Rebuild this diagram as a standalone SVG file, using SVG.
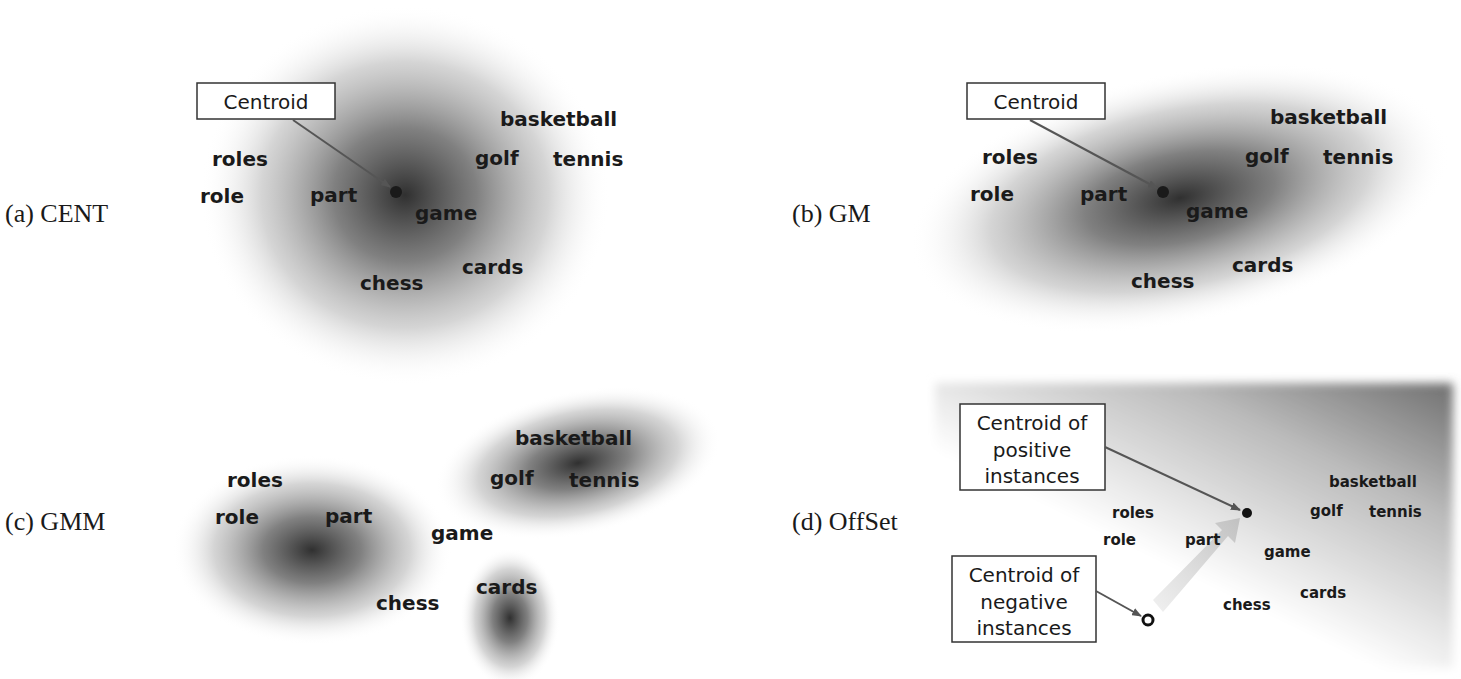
<svg xmlns="http://www.w3.org/2000/svg" width="1461" height="679" viewBox="0 0 1461 679">
<defs>
<radialGradient id="blob"><stop offset="0" stop-color="#303030"/><stop offset="0.35" stop-color="#6a6a6a" stop-opacity="0.85"/><stop offset="0.7" stop-color="#aaa" stop-opacity="0.5"/><stop offset="1" stop-color="#fff" stop-opacity="0"/></radialGradient>
<linearGradient id="bg" x1="0.2" y1="0.9" x2="1" y2="0"><stop offset="0.3" stop-color="#fff"/><stop offset="0.7" stop-color="#bbb"/><stop offset="1" stop-color="#707070"/></linearGradient>
<linearGradient id="big" x1="0" y1="1" x2="1" y2="0"><stop offset="0" stop-color="#eee"/><stop offset="1" stop-color="#bbb"/></linearGradient>
<marker id="ah" markerWidth="10" markerHeight="8" refX="9" refY="4" orient="auto" markerUnits="userSpaceOnUse"><path d="M0,0 L10,4 L0,8 Z" fill="#555"/></marker>
<filter id="soft"><feGaussianBlur stdDeviation="5"/></filter>
</defs>
<style>
.w{font-family:"DejaVu Sans",Verdana,sans-serif;font-weight:bold;font-size:20px;fill:#1a1a1a}
.ws{font-family:"DejaVu Sans",Verdana,sans-serif;font-weight:bold;font-size:15px;fill:#1a1a1a}
.lab{font-family:"Liberation Serif",serif;font-size:26px;fill:#1a1a1a}
.box{fill:#fff;stroke:#333;stroke-width:1.5}
.bt{font-family:"DejaVu Sans",Verdana,sans-serif;font-size:20px;fill:#1a1a1a;text-anchor:middle}
.ar{stroke:#555;stroke-width:2;fill:none;marker-end:url(#ah)}
</style>
<rect width="1461" height="679" fill="#fff"/>
<g id="panel-a">
<ellipse cx="405" cy="195" rx="205" ry="190" fill="url(#blob)"/>
<text class="lab" x="5" y="222">(a) CENT</text>
<text class="w" x="500" y="126">basketball</text><text class="w" x="475" y="165">golf</text><text class="w" x="553" y="166">tennis</text>
<text class="w" x="212" y="166">roles</text><text class="w" x="200" y="203">role</text><text class="w" x="310" y="202">part</text>
<text class="w" x="415" y="220">game</text><text class="w" x="360" y="290">chess</text><text class="w" x="462" y="274">cards</text>
<circle cx="396" cy="192" r="6" fill="#1a1a1a"/>
</g>
<g id="centroid-a"><rect class="box" x="197" y="83" width="138" height="36"/><text class="bt" x="266" y="109">Centroid</text></g>
<g id="panel-b">
<ellipse cx="1180" cy="198" rx="275" ry="125" transform="rotate(-12 1180 198)" fill="url(#blob)"/>
<text class="lab" x="792" y="222">(b) GM</text>
<text class="w" x="1270" y="124">basketball</text><text class="w" x="1245" y="163">golf</text><text class="w" x="1323" y="164">tennis</text>
<text class="w" x="982" y="164">roles</text><text class="w" x="970" y="201">role</text><text class="w" x="1080" y="201">part</text>
<text class="w" x="1186" y="218">game</text><text class="w" x="1131" y="288">chess</text><text class="w" x="1232" y="272">cards</text>
<circle cx="1163" cy="192" r="6" fill="#1a1a1a"/>
</g>
<g id="centroid-b"><rect class="box" x="967" y="83" width="138" height="36"/><text class="bt" x="1036" y="109">Centroid</text></g>
<g id="panel-c">
<ellipse cx="312" cy="550" rx="140" ry="95" fill="url(#blob)"/>
<ellipse cx="578" cy="463" rx="145" ry="72" transform="rotate(-12 578 463)" fill="url(#blob)"/>
<ellipse cx="510" cy="618" rx="50" ry="70" fill="url(#blob)"/>
<text class="lab" x="5" y="530">(c) GMM</text>
<text class="w" x="515" y="445">basketball</text><text class="w" x="490" y="485">golf</text><text class="w" x="569" y="487">tennis</text>
<text class="w" x="227" y="487">roles</text><text class="w" x="215" y="524">role</text><text class="w" x="325" y="523">part</text>
<text class="w" x="431" y="540">game</text><text class="w" x="376" y="610">chess</text><text class="w" x="476" y="594">cards</text>
</g>
<g id="panel-d">
<rect x="935" y="383" width="518" height="285" fill="url(#bg)" filter="url(#soft)"/>
<text class="lab" x="792" y="530">(d) OffSet</text>
<path d="M1153,600 L1222,530 L1215,523 L1240,518 L1235,543 L1228,536 L1163,612 Z" fill="url(#big)" opacity="0.85"/>
<text class="ws" x="1329" y="487">basketball</text><text class="ws" x="1310" y="516">golf</text><text class="ws" x="1369" y="517">tennis</text>
<text class="ws" x="1112" y="518">roles</text><text class="ws" x="1103" y="545">role</text><text class="ws" x="1185" y="545">part</text>
<text class="ws" x="1264" y="557">game</text><text class="ws" x="1223" y="610">chess</text><text class="ws" x="1300" y="598">cards</text>
<circle cx="1247" cy="513" r="5" fill="#111"/>
<circle cx="1148" cy="620" r="5" fill="none" stroke="#111" stroke-width="3"/>
</g>
<g id="centroid-pos"><rect class="box" x="960" y="404" width="145" height="86"/><text class="bt" x="1032" y="430">Centroid of</text><text class="bt" x="1032" y="457">positive</text><text class="bt" x="1032" y="483">instances</text></g>
<g id="centroid-neg"><rect class="box" x="952" y="556" width="144" height="86"/><text class="bt" x="1024" y="582">Centroid of</text><text class="bt" x="1024" y="609">negative</text><text class="bt" x="1024" y="635">instances</text></g>
<g id="connectors">
<line class="ar" x1="293" y1="120" x2="390" y2="187"/>
<line class="ar" x1="1030" y1="120" x2="1157" y2="188"/>
<line class="ar" x1="1105" y1="447" x2="1240" y2="510"/>
<line class="ar" x1="1096" y1="591" x2="1141" y2="616"/>
</g>
</svg>
